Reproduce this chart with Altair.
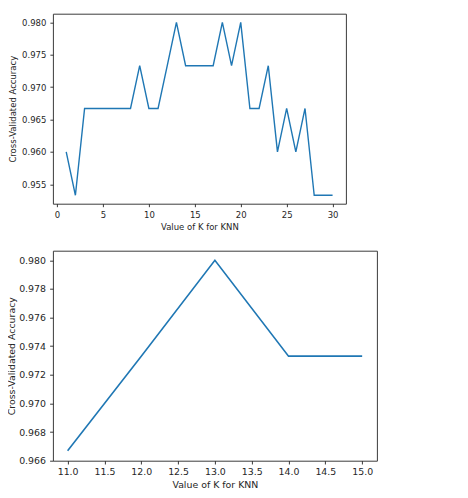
import altair as alt
import pandas as pd

# ---- data ----
k_range = list(range(1, 31))
k_scores = [0.9600, 0.9533, 0.9667, 0.9667, 0.9667, 0.9667, 0.9667, 0.9667, 0.9733, 0.9667,
            0.9667, 0.9733, 0.9800, 0.9733, 0.9733, 0.9733, 0.9733, 0.9800, 0.9733, 0.9800,
            0.9667, 0.9667, 0.9733, 0.9600, 0.9667, 0.9600, 0.9667, 0.9533, 0.9533, 0.9533]

k_range_zoom = [11, 12, 13, 14, 15]
k_scores_zoom = [0.9667, 0.9733, 0.9800, 0.9733, 0.9733]

top_xticks = [0, 5, 10, 15, 20, 25, 30]
top_yticks = [0.955, 0.960, 0.965, 0.970, 0.975, 0.980]
bot_xticks = [11.0, 11.5, 12.0, 12.5, 13.0, 13.5, 14.0, 14.5, 15.0]
bot_yticks = [0.966, 0.968, 0.970, 0.972, 0.974, 0.976, 0.978, 0.980]

x_title = "Value of K for KNN"
y_title = "Cross-Validated Accuracy"

FONT = "DejaVu Sans"
TXT = "#262626"
LINE = "#1f77b4"


def axis(values, fmt, fs, tick, lpad, tpad):
    return alt.Axis(values=values, format=fmt, labelFontSize=fs, titleFontSize=fs,
                    tickSize=tick, labelPadding=lpad, titlePadding=tpad, grid=False,
                    domain=False, ticks=True, tickColor="#222222", tickWidth=0.9,
                    labelColor=TXT, titleColor=TXT, labelFont=FONT, titleFont=FONT,
                    titleFontWeight="normal", labelFlush=False, labelOverlap=False)


df1 = pd.DataFrame({"k": k_range, "score": k_scores})
df2 = pd.DataFrame({"k": k_range_zoom, "score": k_scores_zoom})

line1 = alt.Chart(df1).mark_line(color=LINE, strokeWidth=1.4).encode(
    x=alt.X("k:Q", title=x_title,
            scale=alt.Scale(domain=[-0.45, 31.45], nice=False, zero=False),
            axis=axis(top_xticks, "d", 8.5, 3, 3.8, 3.5)),
    y=alt.Y("score:Q", title=y_title,
            scale=alt.Scale(domain=[0.952, 0.98133], nice=False, zero=False),
            axis=axis(top_yticks, ".3f", 8.5, 3, 4, 4.2)),
)
# invisible spacer that widens the top panel's left extent
spacer = alt.Chart(pd.DataFrame({"a": [0]})).mark_rule(strokeOpacity=0, opacity=0).encode(
    x=alt.value(-51.4), x2=alt.value(-50), y=alt.value(1)
)
top = alt.layer(line1, spacer).properties(width=293, height=190)

bottom = alt.Chart(df2).mark_line(color=LINE, strokeWidth=1.6).encode(
    x=alt.X("k:Q", title=x_title,
            scale=alt.Scale(domain=[10.8, 15.2], nice=False, zero=False),
            axis=axis(bot_xticks, ".1f", 9.4, 3.3, 3.8, 4.2)),
    y=alt.Y("score:Q", title=y_title,
            scale=alt.Scale(domain=[0.966, 0.980667], nice=False, zero=False),
            axis=axis(bot_yticks, ".3f", 9.4, 3.3, 4.1, 2)),
).properties(width=324, height=210)

chart = alt.vconcat(top, bottom, spacing=18).properties(
    padding={"left": -7.1, "top": 4.7, "right": 5, "bottom": 5},
    background="white",
).configure_view(stroke="#3a3a3a", strokeWidth=1)

chart.save("out.html", embed_options={"renderer": "svg", "actions": False})
